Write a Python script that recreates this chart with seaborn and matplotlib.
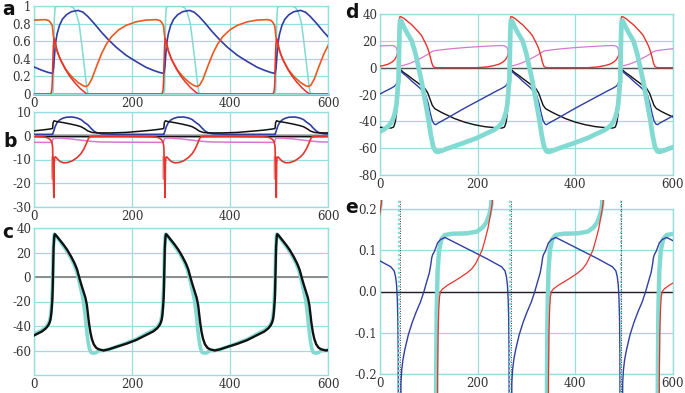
import numpy as np
import pandas as pd
import matplotlib
matplotlib.use("Agg")
import matplotlib.pyplot as plt
import seaborn as sns
from matplotlib.patches import Rectangle

# ---------------- data (phase in ms after each upstroke, value) ----------------
BEATS = [-189, 38, 265, 492]          # upstroke times (ms)
X_TICKS = [0, 200, 400, 600]

# panel a : gating variables
A_BLUE = [(0, .235), (2, .30), (4, .45), (6, .58), (9, .68), (14, .78), (20, .85), (28, .90),
          (38, .935), (52, .95), (62, .93), (72, .88), (85, .80), (100, .70), (115, .61),
          (130, .53), (150, .44), (170, .37), (190, .305), (205, .27), (218, .245), (226, .235)]
A_ORANGE = [(0, .74), (1.5, .66), (4, .58), (10, .47), (18, .37), (28, .27), (40, .19), (52, .13),
            (62, .095), (68, .085), (73, .10), (80, .17), (90, .32), (100, .46), (110, .57),
            (120, .65), (135, .73), (150, .78), (170, .82), (190, .84), (212, .845), (219, .835),
            (223, .81), (225, .79), (226.5, .77)]
A_RED = [(0, .30), (1.5, .55), (3, .63), (5, .60), (9, .50), (15, .40), (25, .29), (35, .20),
         (45, .13), (55, .07), (63, .03), (69, .005), (72, 0), (222, 0), (224, .01),
         (225.5, .05), (226.5, .15)]
A_CYAN = [(0, 0), (1.5, .05), (2.5, .4), (3.5, .85), (5, .98), (8, 1), (35, 1), (42, .98),
          (46, .95), (49, .90), (54, .80), (59, .58), (64, .35), (68, .15), (71, .03), (73, 0),
          (226, 0)]

# panel b : currents
B_BLACK = [(0, 3.2), (1, 5.5), (3, 6.3), (8, 6.0), (20, 5.6), (35, 5.0), (50, 4.3), (58, 3.8),
           (65, 3.0), (72, 2.0), (80, 1.4), (90, 1.2), (120, 1.2), (150, 1.4), (190, 2.1),
           (205, 2.4), (220, 2.8), (226, 3.0)]
B_BLUE = [(0, .6), (2, 1.8), (5, 3.8), (9, 5.5), (14, 6.6), (20, 7.3), (28, 7.8), (40, 7.9),
          (50, 7.5), (58, 6.8), (65, 5.6), (72, 4.6), (78, 3.2), (84, 2.0), (90, 1.3),
          (100, .8), (130, .6), (226, .6)]
B_PINK = [(0, -1.8), (2, -1.0), (15, -1.0), (35, -1.3), (55, -1.8), (75, -2.3), (95, -2.6),
          (130, -2.7), (226, -2.8)]
B_RED = [(0, -5), (1.5, -18), (2.5, -26), (3.2, -12), (4, -9.2), (6, -8.9), (10, -9.8),
         (15, -10.8), (22, -11.4), (30, -11.3), (40, -10.6), (50, -9.2), (58, -7.5),
         (64, -5.5), (69, -3.2), (73, -1.2), (76, -0.4), (85, -0.2), (150, -0.2), (200, -0.4),
         (212, -0.6), (218, -1.0), (222, -1.6), (225, -2.5), (226.5, -4)]
B_RED_SHADE = [(0.3, -9), (0.4, -18)]

# panel c : membrane potential
C_BLACK = [(0, -12), (1, 8), (2, 24), (3.5, 33.5), (4.5, 35), (8, 33.5), (15, 30), (22, 26.5),
           (30, 22), (38, 16.5), (45, 11), (50, 6), (54, 0), (58, -5.5), (63, -12), (67, -17),
           (70, -23), (72, -30), (74, -37), (77, -45), (80, -50.5), (84, -55), (89, -57.8),
           (94, -59), (104, -60), (115, -59), (130, -57), (150, -54.5), (170, -51.5),
           (190, -47.5), (205, -44.5), (213, -42), (218, -39.5), (221, -37), (223, -34),
           (224.5, -29), (225.5, -23), (226.5, -18)]
C_CYAN = [(0, -5), (1, 18), (2.5, 32), (3.5, 35), (5, 34.5), (10, 32), (18, 27.5), (26, 23),
          (34, 18), (42, 12), (48, 6), (52, 0), (56, -7), (60, -14), (63, -20), (66, -30),
          (69, -42), (72, -52), (75, -58.5), (78, -61.5), (83, -62.2), (88, -61.8), (94, -60.2),
          (104, -60), (115, -59), (130, -57), (150, -54), (170, -51), (190, -46.5),
          (205, -43.5), (213, -41), (218, -38.5), (221, -35.5), (223, -31), (224.5, -25),
          (225.5, -17), (226.5, -10)]

# panel d
D_CYAN = [(0, -10), (1, 12), (2, 28), (3, 35), (5, 35), (10, 31), (18, 25.5), (27, 20),
          (35, 10), (41, 0), (47, -10), (54, -24), (61, -38), (66, -50), (71, -59), (76, -62.3),
          (80, -62.8), (88, -62), (100, -60.3), (130, -56.5), (160, -52.5), (180, -49),
          (195, -46.5), (205, -44), (212, -41), (217, -37), (220, -33), (222.5, -28),
          (224.5, -20), (226, -12)]
D_RED = [(0, 22), (1.5, 36), (3, 38), (6, 37.8), (12, 36.5), (20, 34), (27, 32), (40, 27),
         (47, 24), (54, 19), (58, 16), (62, 12), (65, 8), (68, 3.5), (71, 0.8), (75, 0.1),
         (80, 0), (160, 0), (180, 0.5), (195, 1.5), (205, 2.5), (213, 4), (219, 6),
         (223, 8.5), (225.5, 12), (226.5, 18)]
D_PINK = [(0, 4), (2, 1.5), (8, 1.5), (20, 2.8), (35, 5), (48, 7.5), (58, 9.5), (66, 11.5),
          (72, 12.5), (85, 13.2), (110, 14.2), (140, 15.1), (170, 15.8), (195, 16.3),
          (212, 16.5), (218, 16.2), (222, 15), (224.5, 12), (226, 7)]
D_BLACK = [(0, -3), (2, -1.5), (4, -1.5), (10, -3.5), (20, -6), (27, -8), (40, -11.5),
           (54, -15.5), (60, -19), (65, -24), (69, -28), (74, -30.5), (85, -32.8), (95, -34.6),
           (115, -38), (136, -40.7), (155, -42.5), (177, -44), (200, -44.8), (212, -45),
           (217, -44.2), (220, -41), (222.5, -35), (224.5, -25), (226, -12)]
D_BLUE = [(0, -4), (2, -2), (4, -2.5), (10, -4.5), (20, -7.5), (27, -10), (40, -14), (50, -17.5),
          (56, -21), (61, -27), (65, -34), (69, -39.5), (73, -42), (76, -42.5), (80, -41.5),
          (100, -37.5), (136, -30), (177, -22), (200, -17.5), (211, -15.5), (218, -14),
          (222, -12.5), (224.5, -10), (226, -6)]

# panel e (values of +-0.5 lie off the chart)
E_BLUE = [(0, -0.5), (3.5, -0.5), (5, -0.22), (6.5, -0.19), (9, -0.165), (13, -0.14),
          (20, -0.105), (28, -0.075), (36, -0.05), (45, -0.025), (52, 0.0), (58, 0.025),
          (63, 0.045), (66, 0.065), (68, 0.082), (70, 0.09), (73, 0.096), (76, 0.105),
          (80, 0.118), (86, 0.126), (95, 0.131), (120, 0.116), (150, 0.098), (180, 0.08),
          (200, 0.067), (211, 0.06), (218, 0.05), (221, 0.035), (223, 0.015), (224.5, -0.02),
          (225.5, -0.065), (226.3, -0.15), (226.8, -0.5)]
E_RED = [(0, -0.5), (79, -0.5), (80, -0.2), (81, -0.1), (82.5, -0.04), (84, -0.012), (86, 0.0),
         (90, 0.006), (100, 0.015), (110, 0.022), (125, 0.033), (140, 0.045), (150, 0.055),
         (158, 0.068), (165, 0.085), (171, 0.1), (177, 0.125), (183, 0.153), (188, 0.185),
         (192, 0.215), (194, 0.5), (226.8, 0.5)]
E_CYAN = [(0, -0.5), (76, -0.5), (77, -0.2), (78, -0.05), (80, 0.05), (83, 0.1), (88, 0.127),
          (95, 0.137), (110, 0.14), (140, 0.141), (160, 0.145), (172, 0.155), (180, 0.168),
          (186, 0.187), (190, 0.21), (192, 0.5), (226.8, 0.5)]

# ---------------- styling ----------------
BLUE = "#2f3ea2"
ORANGE = "#ea5a1f"
RED = "#e8332c"
CYAN = "#82dad2"
PINK = "#d877d2"
BLACK = "#111111"
GRID = "#98dede"

sns.set_style("white")
plt.rcParams["font.family"] = ["DejaVu Serif"]
plt.rcParams["axes.unicode_minus"] = False

W, H = 685, 393
fig = plt.figure(figsize=(W / 100, H / 100), dpi=100)


def add_axes(left, right, top, bottom):
    return fig.add_axes([left / W, 1 - bottom / H, (right - left) / W, (bottom - top) / H])


def series(template):
    ph = np.array([p for p, _ in template], dtype=float)
    v = np.array([q for _, q in template], dtype=float)
    parts = [pd.DataFrame({"t": b + ph, "v": v, "cycle": i}) for i, b in enumerate(BEATS)]
    return pd.concat(parts, ignore_index=True)


def draw(ax, template, color, lw, split=False, alpha=1.0, z=3):
    df = series(template)
    kw = dict(data=df, x="t", y="v", estimator=None, sort=False, color=color,
              linewidth=lw, alpha=alpha, ax=ax, zorder=z, legend=False)
    if split:
        kw["units"] = "cycle"
    sns.lineplot(**kw)


def style(ax, ylim, yticks, ylabels):
    ax.set_xlim(0, 600)
    ax.set_ylim(*ylim)
    ax.set_xticks(X_TICKS)
    ax.set_xticklabels([str(x) for x in X_TICKS])
    ax.set_yticks(yticks)
    ax.set_yticklabels(ylabels)
    ax.grid(True, color=GRID, lw=0.9)
    ax.set_axisbelow(True)
    for s in ax.spines.values():
        s.set_color(GRID)
        s.set_linewidth(1.0)
    ax.tick_params(length=0, pad=2, labelsize=8.5, labelcolor="#333333")
    ax.set_xlabel("")
    ax.set_ylabel("")


# ---- panel a
axa = add_axes(34, 328, 6, 94)
axa.axhline(0, color="#aaaaaa", lw=2.2, zorder=2, clip_on=False)
draw(axa, A_CYAN, CYAN, 1.1)
draw(axa, A_BLUE, BLUE, 1.2)
draw(axa, A_ORANGE, ORANGE, 1.2)
draw(axa, A_RED, RED, 1.1)
style(axa, (0, 1), [0, .2, .4, .6, .8, 1], ["0", "0.2", "0.4", "0.6", "0.8", "1"])

# ---- panel b
axb = add_axes(34, 328, 112, 207)
axb.axhline(0, color="#aaaaaa", lw=2.6, zorder=2)
axb.axhline(0, color=BLACK, lw=1.0, zorder=2)
draw(axb, B_PINK, PINK, 1.1)
draw(axb, B_BLUE, BLUE, 1.2)
draw(axb, B_BLACK, BLACK, 1.1)
draw(axb, B_RED_SHADE, "#f09a96", 2.4, split=True, z=2)
draw(axb, B_RED, RED, 1.2)
style(axb, (-30, 10), [-30, -20, -10, 0, 10], ["-30", "-20", "-10", "0", "10"])

# ---- panel c
axc = add_axes(34, 328, 228, 375)
axc.axhline(0, color="#8c8c8c", lw=1.4, zorder=2)
draw(axc, C_CYAN, CYAN, 2.6)
draw(axc, C_BLACK, BLACK, 1.7)
style(axc, (-80, 40), [-60, -40, -20, 0, 20, 40], ["-60", "-40", "-20", "0", "20", "40"])

# ---- panel d
axd = add_axes(380, 673, 14, 175)
axd.axhline(0, color="#555555", lw=1.0, zorder=2)
draw(axd, D_PINK, PINK, 0.9)
draw(axd, D_RED, RED, 1.0)
draw(axd, D_BLACK, BLACK, 1.0)
draw(axd, D_BLUE, BLUE, 1.0)
draw(axd, D_CYAN, CYAN, 3.4)
style(axd, (-80, 40), [-80, -60, -40, -20, 0, 20, 40],
      ["-80", "-60", "-40", "-20", "0", "20", "40"])

# ---- panel e
axe = add_axes(380, 673, 209, 374)
axe.axhline(0, color="#2a1a2a", lw=1.0, zorder=2)
draw(axe, E_CYAN, CYAN, 3.2, split=True)
draw(axe, E_BLUE, BLUE, 1.0, split=True)
draw(axe, E_RED, RED, 0.9, split=True)
for b in BEATS[1:]:
    axe.axvline(b + 1.5, ymin=-0.2, ymax=1.055, color=CYAN, lw=1.6, ls=(0, (1, 1)),
                clip_on=False, zorder=4)
    axe.axvline(b + 2.5, ymin=-0.2, ymax=1.055, color="#3a3a3a", lw=0.7, ls=(0, (1, 1.5)),
                clip_on=False, zorder=4)
style(axe, (-0.2, 0.2), [-0.2, -0.1, 0.0, 0.1, 0.2], ["-0.2", "-0.1", "0.0", "0.1", "0.2"])
for ln in axe.lines:
    if len(ln.get_xdata()) > 2:
        rect = Rectangle((0, -0.2), 600, 1.255, transform=axe.get_xaxis_transform())
        ln.set_clip_path(rect)

# panel letters
for letter, x, y in [("a", 2, 15), ("b", 3, 147), ("c", 2, 238), ("d", 345, 18), ("e", 345, 213)]:
    fig.text(x / W, 1 - y / H, letter, fontsize=13.5, fontweight="bold",
             family=["DejaVu Sans"], ha="left", va="baseline", color="#111111")

fig.savefig("out.png", dpi=100)
